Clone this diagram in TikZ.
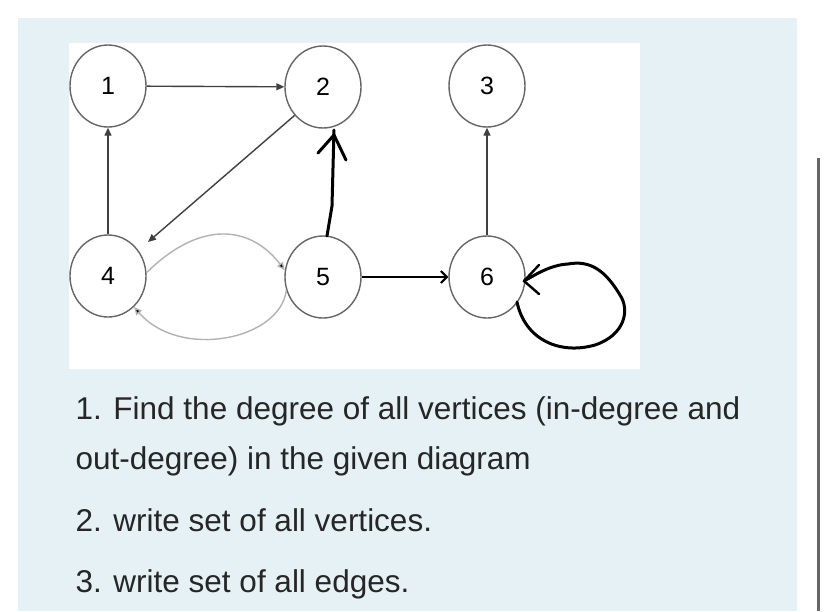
\documentclass[tikz,border=0pt]{standalone}
\usepackage{fontspec}
\setmainfont{Liberation Sans}
\usetikzlibrary{arrows.meta,shapes.geometric}
\definecolor{panel}{HTML}{E5F1F4}
\begin{document}
\begin{tikzpicture}[x=1pt,y=-1pt,
  vert/.style={draw=black!60,line width=1.4pt,ellipse,minimum width=76pt,minimum height=82pt,inner sep=0pt,font=\fontsize{25}{25}\selectfont,fill=white},
  edge/.style={draw=black!75,line width=1.4pt,-{Triangle[length=8pt,width=7pt]}},
  light/.style={draw=black!30,line width=1.4pt,-{Triangle[length=8pt,width=7pt,fill=black]}},
  hand/.style={draw=black,line width=3pt,line cap=round,line join=round},
  txt/.style={anchor=base west,font=\fontsize{31.5}{31.5}\selectfont,text=black!85}]
\useasboundingbox (0,0) rectangle (828,611);
\fill[white] (0,0) rectangle (828,611);
\fill[panel] (18,18) rectangle (797,611);
\fill[white] (69,43) rectangle (640,369);
\draw[black!60,line width=3pt] (818,158) -- (818,611);
\node[vert] (n1) at (108,86) {1};
\node[vert] (n2) at (323,87) {2};
\node[vert] (n3) at (487,86) {3};
\node[vert] (n4) at (108,276) {4};
\node[vert] (n5) at (323,277) {5};
\node[vert] (n6) at (487,277) {6};
\draw[edge] (n1) -- (n2);
\draw[edge] (n2.225) -- (148,242);
\draw[edge] (n4) -- (n1);
\draw[edge] (n6) -- (n3);
\draw[light] (n4.5) .. controls (200,220) and (250,225) .. (n5.170);
\draw[light] (n5.200) .. controls (280,340) and (180,360) .. (n4.310);
\draw[black,line width=2pt,-{Straight Barb[length=6pt,width=12pt]}] (n5.east) -- (n6.west);
\coordinate (s5) at (327,236);
\draw[hand] (s5) -- (332,206) -- (334,130);
\draw[hand] (318,153) -- (334,135) -- (346,160);
\coordinate (l6) at (517,302);
\draw[hand] (l6) .. controls (525,340) and (560,355) .. (595,345) .. controls (625,335) and (630,310) .. (620,295) .. controls (605,270) and (590,260) .. (568,264) .. controls (550,265) and (535,275) .. (524,281);
\draw[hand,line width=2.4pt] (539,265) -- (524,281) -- (539,294);
\node[txt] (t1) at (72,419) {1. Find the degree of all vertices (in-degree and};
\node[txt] (t2) at (72,469) {out-degree) in the given diagram};
\node[txt] (t3) at (72,531) {2. write set of all vertices.};
\node[txt] (t4) at (72,592) {3. write set of all edges.};
\end{tikzpicture}
\end{document}
